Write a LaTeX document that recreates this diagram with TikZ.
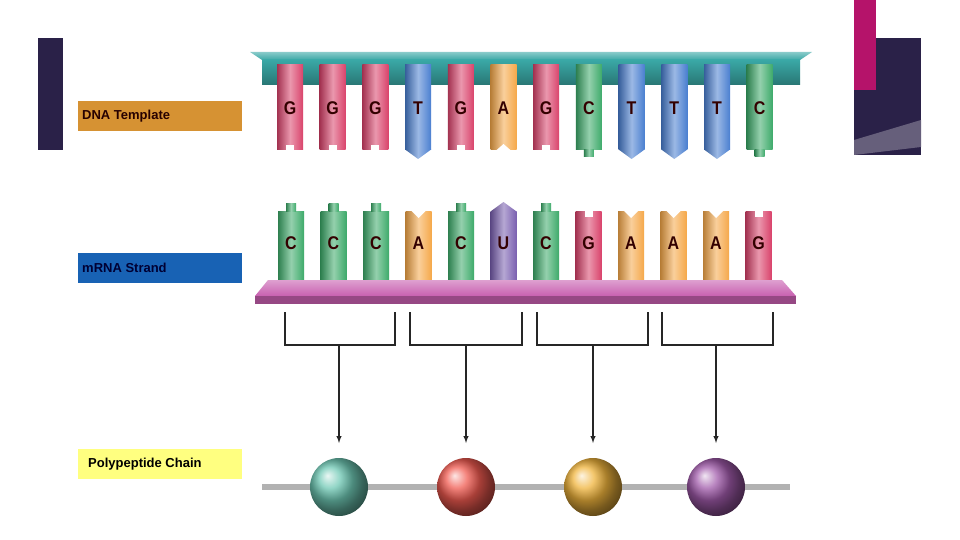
\documentclass[tikz,border=0pt]{standalone}
\usepackage{fontspec}
\setmainfont{Liberation Sans}
\begin{document}
\begin{tikzpicture}[x=1pt,y=-1pt,
  lbl/.style={anchor=west,font=\bfseries\fontsize{13}{14}\selectfont,text=black!85!red,inner sep=0pt},
  lblbox/.style={minimum width=164pt,minimum height=30pt,inner sep=0pt,anchor=north west},
  let/.style={font=\bfseries\fontsize{16}{16}\selectfont,text=black!80!red,yscale=1.15},
  brk/.style={line width=2.4pt,black!85},
  arr/.style={-latex,line width=1.4pt,black!85},
  ball/.style={circle,minimum size=58pt,inner sep=0pt}]
\definecolor{cG}{HTML}{D9436B}\definecolor{cC}{HTML}{3DAA6A}
\definecolor{cT}{HTML}{4A7FD0}\definecolor{cA}{HTML}{F5A84A}
\definecolor{cU}{HTML}{7A60B0}\definecolor{dark}{HTML}{2A2148}
\definecolor{mag}{HTML}{B5136A}\definecolor{teal}{HTML}{3AA8A6}
\definecolor{pinkb}{HTML}{C860B0}
\useasboundingbox (0,0) rectangle (960,540);
\fill[white] (0,0) rectangle (960,540);
% decorations
\fill[dark] (38,38) rectangle (63,150);
\fill[dark] (854,38) rectangle (921,155);
\fill[dark!72!white] (854,140) -- (921,120) -- (921,147) -- (854,155) -- cycle;
\fill[mag] (854,0) rectangle (876,90);
% labels
\node[lblbox,fill={rgb,255:red,214;green,146;blue,51}] (dnab) at (78,101) {};
\node[lbl] (dnal) at ([xshift=4pt]dnab.west) {DNA Template};
\node[lblbox,fill={rgb,255:red,24;green,98;blue,180}] (mrb) at (78,253) {};
\node[lbl,text=black!80!blue] (mrl) at ([xshift=4pt]mrb.west) {mRNA Strand};
\node[lblbox,fill={rgb,255:red,255;green,255;blue,128}] (ppb) at (78,449) {};
\node[lbl,text=black] (ppl) at ([xshift=10pt]ppb.west) {Polypeptide Chain};
% DNA backbone
\shade[top color=teal!60!white,bottom color=teal] (250,52) -- (812,52) -- (800,60) -- (262,60) -- cycle;
\shade[top color=teal,bottom color=teal!70!black] (262,60) rectangle (800,85);
\foreach \l/\c [count=\i from 0] in {G/cG,G/cG,G/cG,T/cT,G/cG,A/cA,G/cG,C/cC,T/cT,T/cT,T/cT,C/cC}{
  \pgfmathsetmacro\xx{290+42.7*\i}
  \shade[left color=\c!75!black,right color=\c,middle color=\c!55!white] (\xx-13,65) rectangle (\xx+13,150);
  \if\l G \fill[white] (\xx-4,145) rectangle (\xx+4,151);\fi
  \if\l T \shade[left color=\c!75!black,right color=\c,middle color=\c!55!white] (\xx-13,149.5) -- (\xx,159) -- (\xx+13,149.5) -- cycle;\fi
  \if\l A \fill[white] (\xx-8,151) -- (\xx,144) -- (\xx+8,151) -- cycle;\fi
  \if\l C \shade[left color=\c!75!black,right color=\c,middle color=\c!55!white] (\xx-5,149.5) rectangle (\xx+5,157);\fi
  \node[let] (d\i) at (\xx,108) {\l};
}
% mRNA
\foreach \l/\c [count=\i from 0] in {C/cC,C/cC,C/cC,A/cA,C/cC,U/cU,C/cC,G/cG,A/cA,A/cA,A/cA,G/cG}{
  \pgfmathsetmacro\xx{291+42.5*\i}
  \shade[left color=\c!75!black,right color=\c,middle color=\c!55!white] (\xx-13,211) rectangle (\xx+13,290);
  \if\l C \shade[left color=\c!75!black,right color=\c,middle color=\c!55!white] (\xx-5,203) rectangle (\xx+5,211.5);\fi
  \if\l G \fill[white] (\xx-4,210) rectangle (\xx+4,217);\fi
  \if\l A \fill[white] (\xx-8,210) -- (\xx,218) -- (\xx+8,210) -- cycle;\fi
  \if\l U \shade[left color=\c!75!black,right color=\c,middle color=\c!55!white] (\xx-13,211.5) -- (\xx,202) -- (\xx+13,211.5) -- cycle;\fi
  \node[let] (m\i) at (\xx,243) {\l};
}
\shade[top color=pinkb!60!white,bottom color=pinkb] (268,280) -- (782,280) -- (796,296) -- (255,296) -- cycle;
\fill[pinkb!75!black] (255,296) rectangle (796,304);
% brackets, arrows, balls
\draw[line width=6pt,black!30] (262,487) -- (790,487);
\foreach \a/\b/\bx/\c [count=\i] in {285/395/339/{rgb,255:red,110;green,200;blue,180},410/522/466/{rgb,255:red,240;green,90;blue,80},537/648/593/{rgb,255:red,240;green,180;blue,60},662/773/716/{rgb,255:red,160;green,90;blue,170}}{
  \draw[brk] (\a,312) -- (\a,345) -- (\b,345) -- (\b,312);
  \coordinate (t\i) at (\bx,345);
  \node[ball,ball color=\c] (b\i) at (\bx,487) {};
  \draw[arr] (t\i) -- ([yshift=2pt]b\i.north |- 0,445);
}
\end{tikzpicture}
\end{document}
